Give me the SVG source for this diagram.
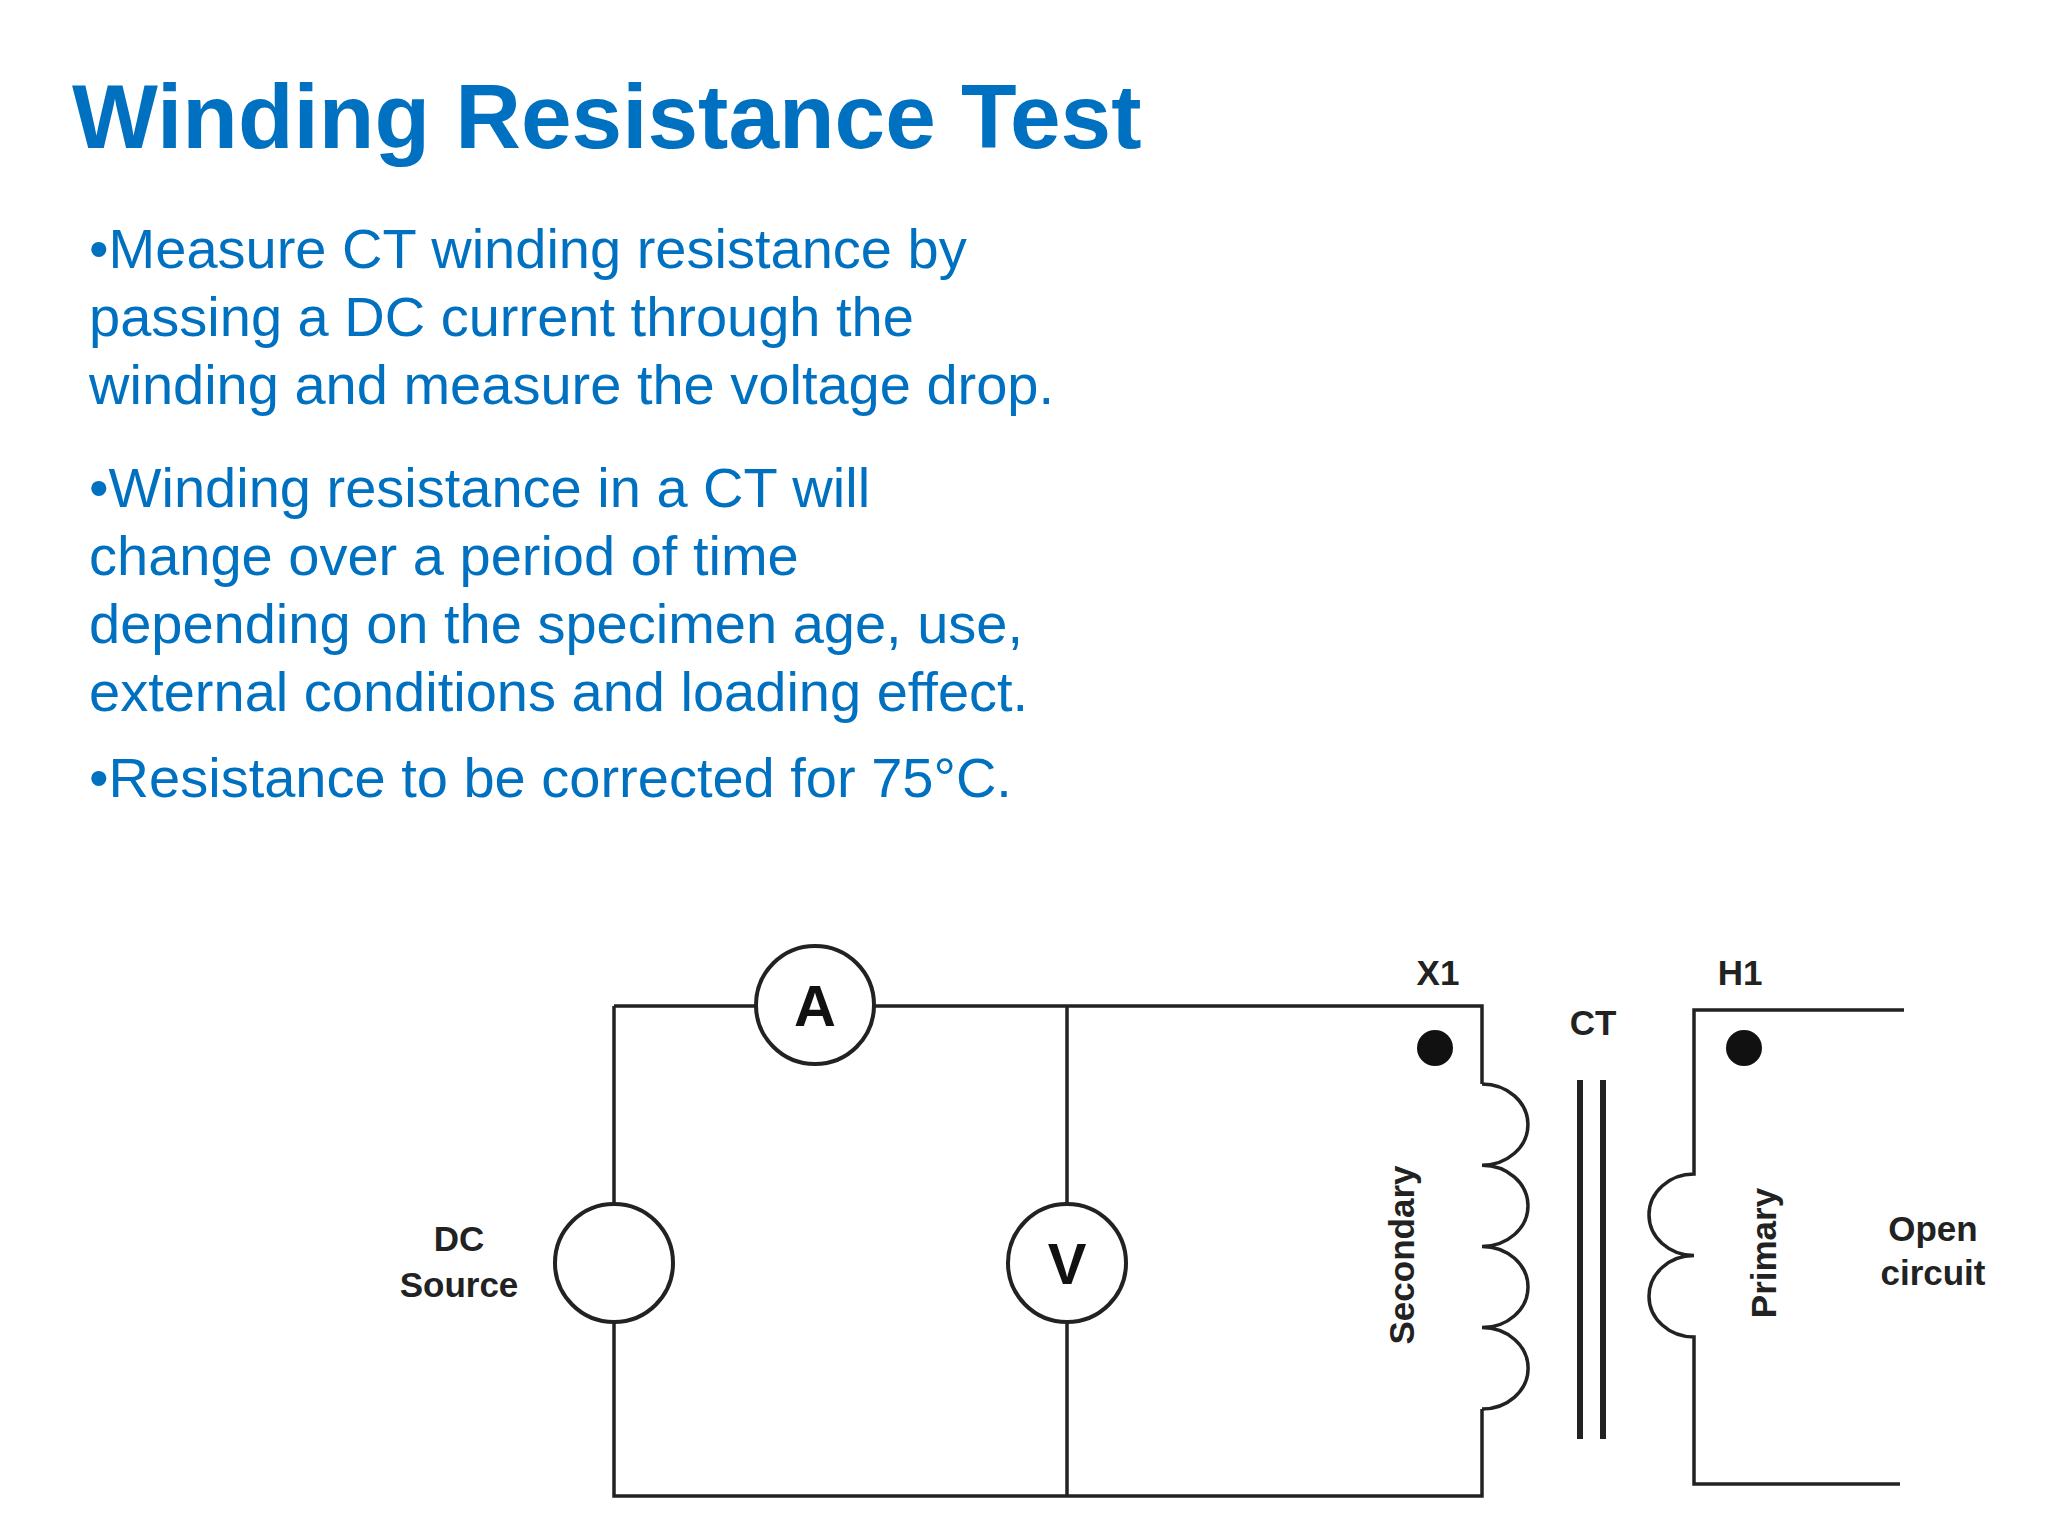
<svg xmlns="http://www.w3.org/2000/svg" width="2048" height="1536" viewBox="0 0 2048 1536">
<style>
.t{font-family:"Liberation Sans",Arial,sans-serif;fill:#0070C0}
.b{font-size:56px}
.l{font-family:"Liberation Sans",Arial,sans-serif;font-size:35px;font-weight:bold;fill:#222}
.w{fill:none;stroke:#222;stroke-width:3.5}
.m{fill:#fff;stroke:#222;stroke-width:4}
.mt{font-family:"Liberation Sans",Arial,sans-serif;font-size:58px;font-weight:bold;fill:#111;text-anchor:middle}
</style>
<rect width="2048" height="1536" fill="#fff"/>
<text class="t" x="72" y="148" font-size="91" font-weight="bold">Winding Resistance Test</text>
<g class="t b">
<text x="89" y="268">•Measure CT winding resistance by</text>
<text x="89" y="336">passing a DC current through the</text>
<text x="89" y="404">winding and measure the voltage drop.</text>
<text x="89" y="507">•Winding resistance in a CT will</text>
<text x="89" y="575">change over a period of time</text>
<text x="89" y="643">depending on the specimen age, use,</text>
<text x="89" y="711">external conditions and loading effect.</text>
<text x="89" y="797">•Resistance to be corrected for 75°C.</text>
</g>
<g id="connectors">
<path class="w" d="M614 1006 H1482 V1084 M1482 1409 V1496 H614 V1006 M1067 1006 V1496"/>
<path class="w" d="M1482 1084 A46 40.6 0 0 1 1482 1165.2 A46 40.6 0 0 1 1482 1246.4 A46 40.6 0 0 1 1482 1327.6 A46 40.6 0 0 1 1482 1409"/>
<path class="w" d="M1904 1010 H1694 V1174 A45 40.75 0 0 0 1694 1255.5 A45 40.75 0 0 0 1694 1337 V1484 H1900"/>
<path fill="none" stroke="#222" stroke-width="6" d="M1580 1080 V1439 M1603 1080 V1439"/>
</g>
<g id="ammeter"><circle class="m" cx="815" cy="1005" r="59"/><text class="mt" x="815" y="1026">A</text></g>
<g id="dcsource"><circle class="m" cx="614" cy="1263" r="59"/><text class="l" x="459" y="1251" text-anchor="middle">DC</text><text class="l" x="459" y="1297" text-anchor="middle">Source</text></g>
<g id="voltmeter"><circle class="m" cx="1067" cy="1263" r="59"/><text class="mt" x="1067" y="1284">V</text></g>
<g id="secondary"><circle cx="1435" cy="1048" r="18" fill="#111"/><text class="l" x="1438" y="985" text-anchor="middle">X1</text><text class="l" text-anchor="middle" x="1414" y="1255" transform="rotate(-90 1414 1255)">Secondary</text></g>
<g id="ct"><text class="l" x="1593" y="1035" text-anchor="middle">CT</text></g>
<g id="primary"><circle cx="1744" cy="1048" r="18" fill="#111"/><text class="l" x="1740" y="985" text-anchor="middle">H1</text><text class="l" text-anchor="middle" x="1776" y="1253" transform="rotate(-90 1776 1253)">Primary</text></g>
<g id="open"><text class="l" x="1933" y="1241" text-anchor="middle">Open</text><text class="l" x="1933" y="1285" text-anchor="middle">circuit</text></g>
</svg>
